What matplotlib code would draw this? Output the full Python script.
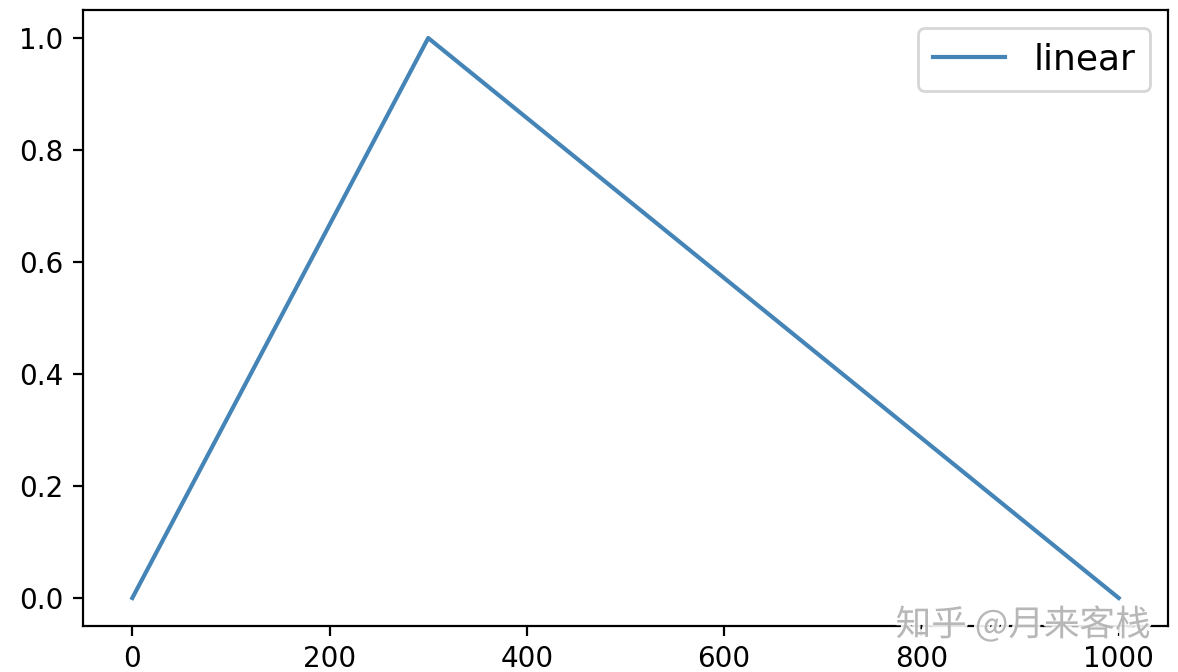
import matplotlib
matplotlib.use('Agg')
from matplotlib import pyplot as plt
import matplotlib.patheffects as pe

# learning rate schedule: warmup then linear decay
steps = [0, 300, 1000]
lr = [0.0, 1.0, 0.0]

fig = plt.figure(figsize=(5.89, 3.36), dpi=200)
ax = fig.add_axes([83/1178, 1 - 626/672, (1168 - 83)/1178, (626 - 10)/672])
ax.plot(steps, lr, '-', color='#4484b6', linewidth=1.5, label='linear')
ax.legend(fontsize=13, loc='upper right')
ax.tick_params(labelsize=10)

fig.text(1023/1178, 1 - 625/672, '知乎 @月来客栈', ha='center', va='center',
         fontsize=12.8, color='#b0b0b0', alpha=0.9,
         family=['Noto Sans CJK SC', 'DejaVu Sans'],
         path_effects=[pe.withStroke(linewidth=2, foreground='white')])

fig.savefig('out.png', dpi=200)
